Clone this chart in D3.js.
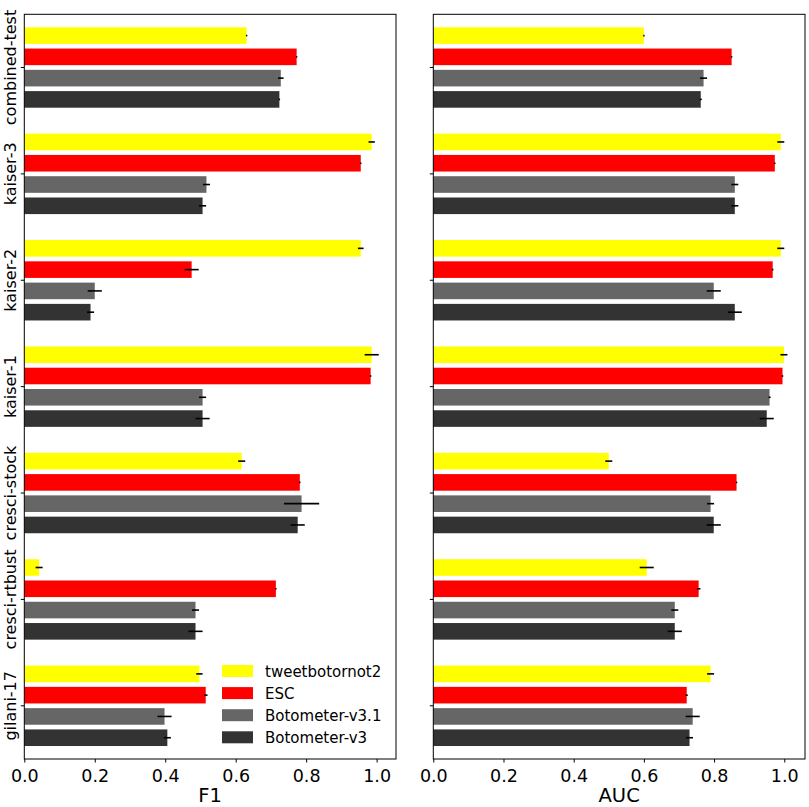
<!DOCTYPE html>
<html>
<head>
<meta charset="utf-8">
<script src="https://cdn.jsdelivr.net/npm/d3@7"></script>
<style>
  body { margin: 0; background: #fff; }
  text { font-family: "DejaVu Sans", sans-serif; }
</style>
</head>
<body>
<svg width="809" height="807"></svg>
<script>
// datasets, top to bottom
const datasets = ['combined-test', 'kaiser-3', 'kaiser-2', 'kaiser-1', 'cresci-stock', 'cresci-rtbust', 'gilani-17'];
const models = ['tweetbotornot2', 'ESC', 'Botometer-v3.1', 'Botometer-v3'];
const colors = ['#ffff00', '#ff0000', '#666666', '#333333'];
const xTicks = [0, 0.2, 0.4, 0.6, 0.8, 1.0];

// F1 per model, same order as datasets
const f1Tweetbotornot2 = [0.631, 0.986, 0.955, 0.986, 0.617, 0.042, 0.497];
const f1Esc            = [0.773, 0.955, 0.475, 0.983, 0.782, 0.714, 0.515];
const f1BotometerV31   = [0.728, 0.517, 0.200, 0.506, 0.787, 0.486, 0.398];
const f1BotometerV3    = [0.724, 0.506, 0.188, 0.506, 0.776, 0.486, 0.406];
const f1ErrTweetbotornot2 = [0.002, 0.009, 0.008, 0.02, 0.01, 0.01, 0.009];
const f1ErrEsc            = [0.002, 0.002, 0.02, 0.002, 0.002, 0.002, 0.005];
const f1ErrBotometerV31   = [0.008, 0.01, 0.02, 0.01, 0.05, 0.01, 0.02];
const f1ErrBotometerV3    = [0.002, 0.01, 0.01, 0.02, 0.02, 0.02, 0.01];

// AUC per model
const aucTweetbotornot2 = [0.600, 0.990, 0.990, 0.999, 0.500, 0.608, 0.790];
const aucEsc            = [0.850, 0.973, 0.967, 0.995, 0.864, 0.756, 0.722];
const aucBotometerV31   = [0.770, 0.859, 0.799, 0.958, 0.790, 0.688, 0.739];
const aucBotometerV3    = [0.762, 0.859, 0.859, 0.950, 0.799, 0.688, 0.730];
const aucErrTweetbotornot2 = [0.002, 0.01, 0.01, 0.01, 0.01, 0.02, 0.01];
const aucErrEsc            = [0.002, 0.002, 0.002, 0.002, 0.002, 0.005, 0.003];
const aucErrBotometerV31   = [0.01, 0.01, 0.02, 0.003, 0.01, 0.01, 0.02];
const aucErrBotometerV3    = [0.003, 0.01, 0.02, 0.02, 0.02, 0.02, 0.01];

const panels = [
    { label: 'F1', left: 24.3, right: 396, xMax: 1.055, showNames: true, showLegend: true,
      values: [f1Tweetbotornot2, f1Esc, f1BotometerV31, f1BotometerV3],
      errors: [f1ErrTweetbotornot2, f1ErrEsc, f1ErrBotometerV31, f1ErrBotometerV3] },
    { label: 'AUC', left: 433.3, right: 805, xMax: 1.059, showNames: false, showLegend: false,
      values: [aucTweetbotornot2, aucEsc, aucBotometerV31, aucBotometerV3],
      errors: [aucErrTweetbotornot2, aucErrEsc, aucErrBotometerV31, aucErrBotometerV3] }
];

const svg = d3.select('svg');
const plotTop = 14.3, plotBottom = 759;

const yScale = d3.scaleBand().domain(datasets).range([plotTop, plotBottom]).padding(0);
const bw = yScale.bandwidth();
// position of each model's bar inside a dataset band
const inner = d3.scaleBand().domain(models)
    .range([-0.4 * bw, 0.4 * bw])
    .paddingInner(0.22).paddingOuter(0.11);
const colorScale = d3.scaleOrdinal(models, colors);

panels.forEach(function (p) {
    const xScale = d3.scaleLinear().domain([0, p.xMax]).range([p.left, p.right]);
    const g = svg.append('g');

    const rows = [];
    models.forEach(function (m, j) {
        datasets.forEach(function (d, i) {
            rows.push({ model: m, dataset: d, value: p.values[j][i], err: p.errors[j][i] });
        });
    });

    g.selectAll('.bar')
        .data(rows)
        .enter()
        .append('rect')
        .attr('class', 'bar')
        .attr('x', xScale(0))
        .attr('y', d => yScale(d.dataset) + bw / 2 + inner(d.model))
        .attr('width', d => xScale(d.value) - xScale(0))
        .attr('height', inner.bandwidth())
        .attr('fill', d => colorScale(d.model));

    g.selectAll('.err')
        .data(rows)
        .enter()
        .append('line')
        .attr('class', 'err')
        .attr('x1', d => xScale(d.value - d.err))
        .attr('x2', d => xScale(d.value + d.err))
        .attr('y1', d => yScale(d.dataset) + bw / 2 + inner(d.model) + inner.bandwidth() / 2)
        .attr('y2', d => yScale(d.dataset) + bw / 2 + inner(d.model) + inner.bandwidth() / 2)
        .attr('stroke', '#000')
        .attr('stroke-width', 1.6);

    // x axis
    const xAxis = d3.axisBottom(xScale).tickValues(xTicks).tickFormat(d3.format('.1f')).tickSizeOuter(0).tickSize(3.5);
    const xg = g.append('g')
        .attr('transform', `translate(0, ${plotBottom})`)
        .call(xAxis);
    xg.select('.domain').remove();
    xg.selectAll('text').attr('font-size', 17.5).attr('fill', '#000').attr('dy', '0.95em');
    xg.selectAll('line').attr('stroke', '#000');

    // y axis ticks
    const yAxis = d3.axisLeft(yScale).tickSize(3.5).tickSizeOuter(0).tickFormat('');
    const yg = g.append('g')
        .attr('transform', `translate(${p.left}, 0)`)
        .call(yAxis);
    yg.select('.domain').remove();
    yg.selectAll('line').attr('stroke', '#000');

    if (p.showNames) {
        g.selectAll('.name')
            .data(datasets)
            .enter()
            .append('text')
            .attr('class', 'name')
            .attr('transform', d => `translate(15.5, ${yScale(d) + bw / 2}) rotate(-90)`)
            .attr('text-anchor', 'middle')
            .attr('font-size', 16)
            .attr('fill', '#000')
            .text(d => d);
    }

    // frame
    g.append('rect')
        .attr('x', p.left)
        .attr('y', plotTop)
        .attr('width', p.right - p.left)
        .attr('height', plotBottom - plotTop)
        .attr('fill', 'none')
        .attr('stroke', '#000')
        .attr('stroke-width', 1);

    g.append('text')
        .attr('x', (p.left + p.right) / 2)
        .attr('y', 802)
        .attr('text-anchor', 'middle')
        .attr('font-size', 19.5)
        .attr('fill', '#000')
        .text(p.label);

    if (p.showLegend) {
        const lg = g.selectAll('.legend')
            .data(models)
            .enter()
            .append('g')
            .attr('class', 'legend')
            .attr('transform', (d, i) => `translate(222, ${671 + i * 22.1})`);
        lg.append('rect')
            .attr('x', 0)
            .attr('y', -6)
            .attr('width', 31)
            .attr('height', 12)
            .attr('fill', d => colorScale(d));
        lg.append('text')
            .attr('x', 43)
            .attr('y', 5.5)
            .attr('font-size', 15)
            .attr('fill', '#000')
            .text(d => d);
    }
});
</script>
</body>
</html>
